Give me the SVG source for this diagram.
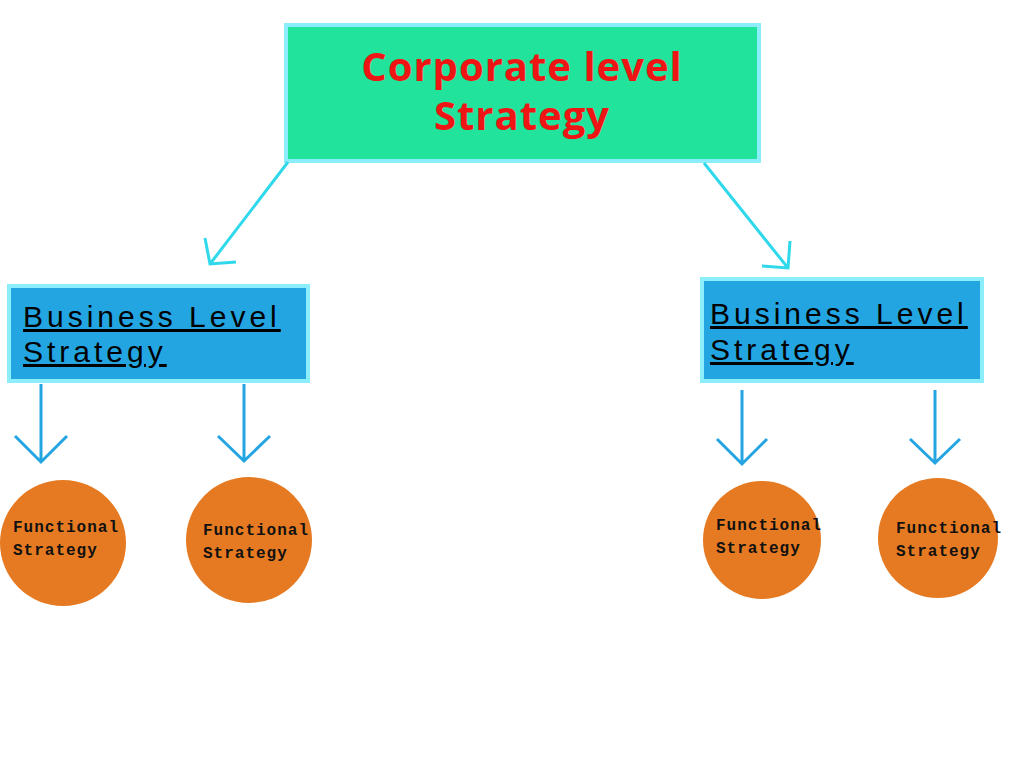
<svg xmlns="http://www.w3.org/2000/svg" width="1024" height="768" viewBox="0 0 1024 768">
<style>
.biz{fill:#23a5e2;stroke:#8ceefa;stroke-width:4}
.bt{font-family:"Liberation Sans",sans-serif;font-size:30px;fill:#000;letter-spacing:4px;text-decoration:underline}
.fn{fill:#e57a22}
.ft{font-family:"Liberation Mono",monospace;font-size:16px;font-weight:bold;fill:#111;letter-spacing:1px}
.c1{stroke:#2fd8ea;stroke-width:3;fill:none}
.c2{stroke:#23a5e2;stroke-width:3;fill:none}
</style>
<rect width="1024" height="768" fill="#fff"/>
<g id="corporate">
<rect x="286" y="25" width="473" height="136" fill="#22e39b" stroke="#8ceefa" stroke-width="4"/>
<text font-family="Open Sans,sans-serif" font-weight="bold" font-size="40" fill="#f01515" text-anchor="middle" letter-spacing="1"><tspan x="522" y="81">Corporate level</tspan><tspan x="522" y="130">Strategy</tspan></text>
</g>
<g id="business1"><rect class="biz" x="9" y="286" width="299" height="95"/>
<text class="bt"><tspan x="23" y="327">Business Level</tspan><tspan x="23" y="362">Strategy</tspan></text></g>
<g id="business2"><rect class="biz" x="702" y="279" width="280" height="102"/>
<text class="bt"><tspan x="710" y="324">Business Level</tspan><tspan x="710" y="360">Strategy</tspan></text></g>
<g id="f1"><circle class="fn" cx="63" cy="543" r="63"/><text class="ft"><tspan x="13" y="532">Functional</tspan><tspan x="13" y="555">Strategy</tspan></text></g>
<g id="f2"><circle class="fn" cx="249" cy="540" r="63"/><text class="ft"><tspan x="203" y="535">Functional</tspan><tspan x="203" y="558">Strategy</tspan></text></g>
<g id="f3"><circle class="fn" cx="762" cy="540" r="59"/><text class="ft"><tspan x="716" y="530">Functional</tspan><tspan x="716" y="553">Strategy</tspan></text></g>
<g id="f4"><circle class="fn" cx="938" cy="538" r="60"/><text class="ft"><tspan x="896" y="533">Functional</tspan><tspan x="896" y="556">Strategy</tspan></text></g>
<g id="connectors">
<path class="c1" d="M288 162 L210 264 M205 238 L210 264 L236 262"/>
<path class="c1" d="M704 163 L788 268 M762 266 L788 268 L790 241"/>
<path class="c2" d="M41 384 V462 M15 436 L41 462 L67 436"/>
<path class="c2" d="M244 384 V461 M218 436 L244 461 L270 436"/>
<path class="c2" d="M742 390 V464 M717 439 L742 464 L767 439"/>
<path class="c2" d="M935 390 V463 M910 439 L935 463 L960 439"/>
</g>
</svg>
